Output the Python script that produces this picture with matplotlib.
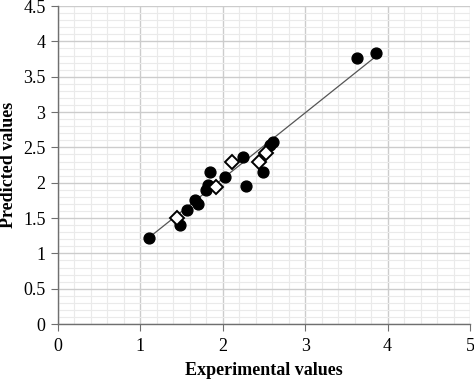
import matplotlib
matplotlib.use("Agg")
import matplotlib.pyplot as plt
from matplotlib.ticker import MultipleLocator

# training set (filled circles)
train_exp = [1.10, 1.48, 1.56, 1.66, 1.70, 1.80, 1.82, 1.84, 2.03, 2.25, 2.28, 2.49, 2.57, 2.61, 3.63, 3.86]
train_pred = [1.22, 1.40, 1.61, 1.75, 1.70, 1.90, 1.97, 2.15, 2.08, 2.37, 1.95, 2.15, 2.53, 2.58, 3.77, 3.83]
# test set (open diamonds)
test_exp = [1.44, 1.92, 2.11, 2.44, 2.53]
test_pred = [1.50, 1.94, 2.30, 2.29, 2.42]
# fitted line
fit_x = [1.10, 3.86]
fit_y = [1.22, 3.79]

plt.rcParams['font.family'] = ['Liberation Serif', 'DejaVu Serif']

fig = plt.figure(figsize=(4.74, 3.79), dpi=100)
ax = fig.add_axes([0.1224, 0.145, 0.8692, 0.839])

ax.plot(fit_x, fit_y, color="#555555", linewidth=0.9, zorder=2)
ax.plot(train_exp, train_pred, linestyle="none", marker="o", markersize=7.8,
        color="black", zorder=3)
ax.plot(test_exp, test_pred, linestyle="none", marker="D", markersize=6.8,
        markerfacecolor="white", markeredgecolor="black", markeredgewidth=1.4, zorder=4)

ax.set_xlim(0, 5)
ax.set_ylim(0, 4.5)
ax.xaxis.set_major_locator(MultipleLocator(1))
ax.xaxis.set_minor_locator(MultipleLocator(0.2))
ax.yaxis.set_minor_locator(MultipleLocator(0.1))
ax.set_yticks([0, 0.5, 1, 1.5, 2, 2.5, 3, 3.5, 4, 4.5])
ax.set_yticklabels(["0", "0.5", "1", "1.5", "2", "2.5", "3", "3.5", "4", "4.5"])

ax.grid(which="major", color="#cccccc", linewidth=1.0)
ax.grid(which="minor", color="#eaeaea", linewidth=0.8)
ax.set_axisbelow(True)

for side in ["top", "right"]:
    ax.spines[side].set_visible(False)
for side in ["left", "bottom"]:
    ax.spines[side].set_color("#6f6f6f")
    ax.spines[side].set_linewidth(1.0)

ax.tick_params(which="major", direction="out", length=5, color="#6f6f6f", labelsize=13)
ax.tick_params(axis="x", which="major", pad=5)
ax.tick_params(axis="y", which="major", pad=4)
ax.tick_params(which="minor", length=0)

ax.set_xlabel("Experimental values", fontsize=13, fontweight="bold", labelpad=5)
ax.set_ylabel("Predicted values", fontsize=13, fontweight="bold", labelpad=4)

fig.savefig("out.png", dpi=100)
